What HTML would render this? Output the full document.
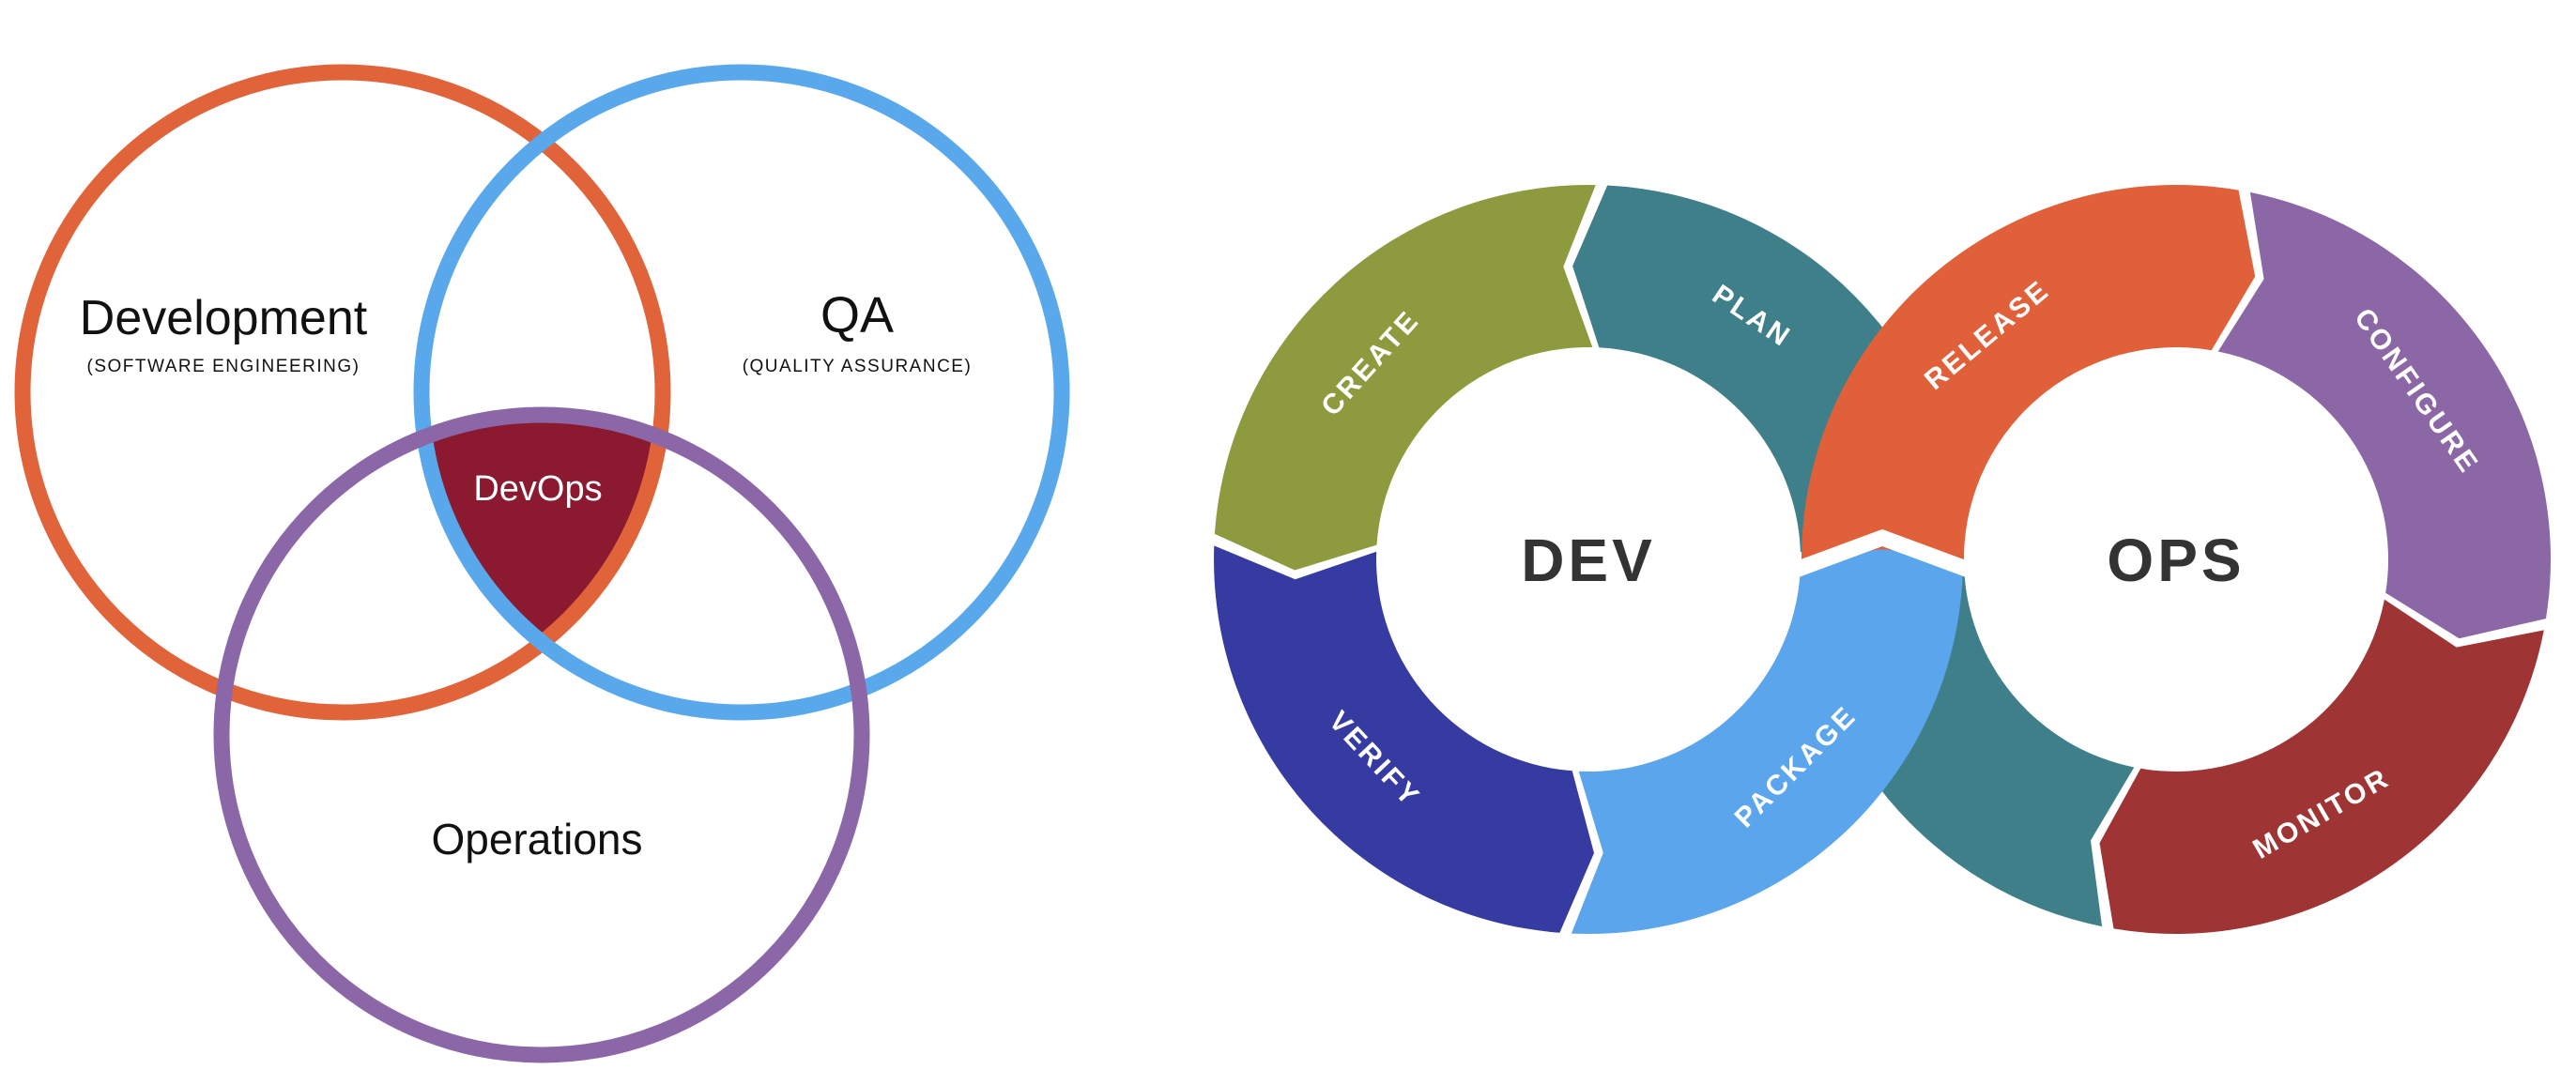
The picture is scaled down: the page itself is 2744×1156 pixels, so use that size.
<!DOCTYPE html>
<html><head><meta charset="utf-8"><style>
html,body{margin:0;padding:0;background:#fff;}
svg{display:block;}
.lbl{font-family:"Liberation Sans",sans-serif;font-weight:bold;font-size:30px;fill:#fff;letter-spacing:3px;}
</style></head><body>
<svg id="s" width="2744" height="1156" viewBox="0 0 2744 1156" xmlns="http://www.w3.org/2000/svg">
<defs>
<clipPath id="co"><circle cx="365" cy="418" r="341"/></clipPath>
<clipPath id="cb"><circle cx="790" cy="418" r="341"/></clipPath>
</defs>
<rect width="2744" height="1156" fill="#fff"/>
<g clip-path="url(#co)"><g clip-path="url(#cb)"><circle cx="577" cy="783" r="341" fill="#8B1A30"/></g></g>
<circle cx="365" cy="418" r="341" fill="none" stroke="#E0633A" stroke-width="17"/>
<circle cx="790" cy="418" r="341" fill="none" stroke="#5AA8EC" stroke-width="17"/>
<circle cx="577" cy="783" r="341" fill="none" stroke="#8B67A8" stroke-width="17"/>
<g font-family="Liberation Sans, sans-serif" text-anchor="middle" fill="#111">
<text x="238" y="356" font-size="52">Development</text>
<text x="238" y="396" font-size="19" letter-spacing="1.5">(SOFTWARE ENGINEERING)</text>
<text x="913" y="354" font-size="54">QA</text>
<text x="913" y="396" font-size="19" letter-spacing="1.5">(QUALITY ASSURANCE)</text>
<text x="573" y="533" font-size="38" fill="#fff">DevOps</text>
<text x="572" y="910" font-size="46">Operations</text>
</g>
<g id="segs"></g>
<g>
<text class="lbl" text-anchor="middle" dominant-baseline="central" transform="translate(1460,387) rotate(-48)">CREATE</text>
<text class="lbl" text-anchor="middle" dominant-baseline="central" transform="translate(1866,337) rotate(34)">PLAN</text>
<text class="lbl" text-anchor="middle" dominant-baseline="central" transform="translate(1464,809) rotate(47)">VERIFY</text>
<text class="lbl" text-anchor="middle" dominant-baseline="central" transform="translate(1913,817) rotate(-45)">PACKAGE</text>
<text class="lbl" text-anchor="middle" dominant-baseline="central" transform="translate(2117,357) rotate(-40)">RELEASE</text>
<text class="lbl" text-anchor="middle" dominant-baseline="central" transform="translate(2574,417) rotate(55)">CONFIGURE</text>
<text class="lbl" text-anchor="middle" dominant-baseline="central" transform="translate(2473,867) rotate(-30)">MONITOR</text>
</g>
<g font-family="Liberation Sans, sans-serif" font-weight="bold" font-size="64" fill="#333" text-anchor="middle" letter-spacing="4">
<text x="1692" y="619">DEV</text>
<text x="2318" y="619">OPS</text>
</g>
</svg>
<script>
(function(){
var R=399,r=226,rm=313,g=0.9;
var NS="http://www.w3.org/2000/svg";
function P(c,rad,a){a=a*Math.PI/180;return (c[0]+rad*Math.cos(a)).toFixed(1)+","+(c[1]+rad*Math.sin(a)).toFixed(1);}
function seg(c,a1,m1,a2,m2,col){
 var la=(a2-a1)>180?1:0;
 var d="M"+P(c,R,a1)+" A"+R+","+R+" 0 "+la+" 1 "+P(c,R,a2)+" L"+P(c,rm,m2)+" L"+P(c,r,a2)+
 " A"+r+","+r+" 0 "+la+" 0 "+P(c,r,a1)+" L"+P(c,rm,m1)+" Z";
 var p=document.createElementNS(NS,"path");
 p.setAttribute("d",d);p.setAttribute("fill",col);
 document.getElementById("segs").appendChild(p);
}
var cy=596;
var D=[1692,cy],O=[2318,cy];
var teal="#3E7F8A";
seg(O,100.5+g,106+g,179,179,teal);
seg(D,272+g,266+g,358,358,teal);
seg(D,183+g,177+g,272-g,266-g,"#8E9A3E");
seg(D,93.5+g,88+g,183-g,177-g,"#363BA2");
seg(O,280.5+g,286.5+g,370-g,376.5-g,"#8C67A6");
seg(O,10+g,16.5+g,100.5-g,106-g,"#9E3433");
seg(O,178,178,280.5-g,286.5-g,"#E0603A");
seg(D,0,-2,93.5-g,88-g,"#5AA5EB");
var pl=document.createElementNS(NS,"polyline");
pl.setAttribute("points","1905,"+(cy+14)+" 2005,"+(cy-23)+" 2105,"+(cy+14));
pl.setAttribute("fill","none");pl.setAttribute("stroke","#fff");pl.setAttribute("stroke-width","17");
document.getElementById("segs").appendChild(pl);
})();
</script>
</body></html>
